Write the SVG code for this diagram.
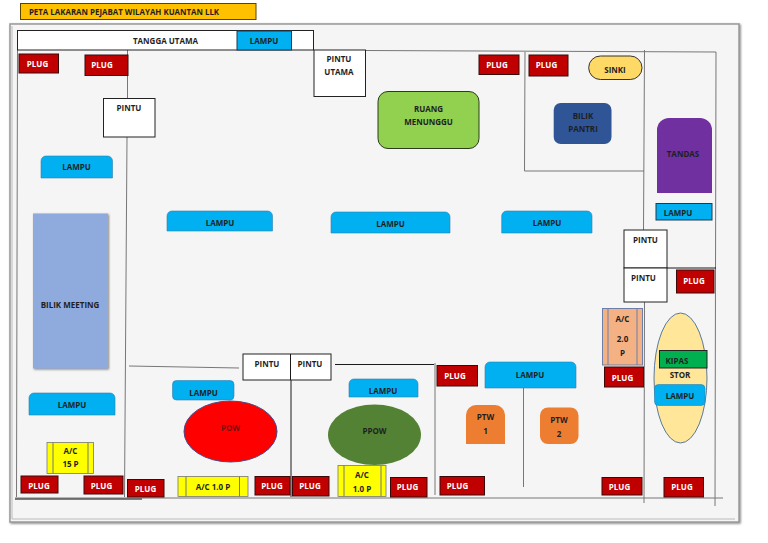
<svg xmlns="http://www.w3.org/2000/svg" width="768" height="543" viewBox="0 0 768 543">
<defs>
<style>
text{font-family:"Open Sans","Noto Sans","Liberation Sans",sans-serif;font-weight:700;font-size:8px;fill:#1f1f1f;text-anchor:middle}
.p rect{fill:#c00000;stroke:#3a0a0a;stroke-width:1}
.p text{fill:#fff}
.l{fill:#00b0f0;stroke:#2f7fb0;stroke-width:.6}
.lb{fill:#00b0f0;stroke:#1c3a50;stroke-width:1}
.w{fill:#fff;stroke:#222;stroke-width:1}
.y{fill:#ffff00;stroke:#777;stroke-width:.8}
.wall{stroke:#777;stroke-width:1;fill:none}
.blk{stroke:#1a1a1a;stroke-width:1;fill:none}
</style>
<filter id="sh" x="-3%" y="-3%" width="106%" height="106%"><feDropShadow dx="1" dy="1" stdDeviation="1" flood-color="#555" flood-opacity=".7"/></filter>
</defs>
<rect width="768" height="543" fill="#fff"/>
<g id="title"><rect x="20.5" y="3.5" width="235.5" height="16" fill="#ffc000" stroke="#5a4400"/><text x="124" y="15" style="font-size:7.900px">PETA LAKARAN PEJABAT WILAYAH KUANTAN LLK</text></g>
<g id="panel"><rect x="10" y="24" width="729" height="498" fill="#f5f5f5" stroke="#999" stroke-width="1.5" filter="url(#sh)"/><path d="M12 26V519H735" fill="none" stroke="#bbb"/></g>
<g id="connectors">
<path class="wall" d="M17.500 50L16.500 497M127.500 50V98M127 137L124.500 497M365 50.500L716 52M525 52L524.500 171H644M644.500 50L643.500 230M644.500 302L644 503M716 52L715 506M129 366L239 368M435 363V495M523.500 388V487M15 498H723"/>
<path d="M15 499H142" stroke="#555" stroke-width="1.500"/>
<path class="blk" d="M335 364.500H434M291 380V497M667 268H716"/>
</g>
<g id="tangga"><rect class="w" x="17.500" y="30.500" width="296" height="19.500"/><text x="165.500" y="43.500">TANGGA UTAMA</text></g>
<g id="lampu-top"><rect class="lb" x="237" y="31" width="54.500" height="19"/><text x="264" y="43.500">LAMPU</text></g>
<g id="pintu-utama"><rect class="w" x="314" y="50" width="51.500" height="46.500"/><text x="339" y="61.500">PINTU</text><text x="339" y="74.500">UTAMA</text></g>
<g id="pintu-1"><rect class="w" x="103.500" y="98.500" width="51.500" height="38.500"/><text x="129" y="111">PINTU</text></g>
<g id="ruang"><rect x="378" y="91.500" width="101" height="57" rx="10" fill="#92d050" stroke="#2a3a1a"/><text x="428.500" y="112">RUANG</text><text x="428.500" y="125">MENUNGGU</text></g>
<g id="pantri"><rect x="553.700" y="103" width="57.800" height="41" rx="7" fill="#2f5597"/><text x="583" y="119">BILIK</text><text x="583" y="132">PANTRI</text></g>
<g id="sinki"><rect x="588.700" y="56" width="53.300" height="23.500" rx="11.700" fill="#ffd966" stroke="#333"/><text x="615" y="72.500">SINKI</text></g>
<g id="tandas"><path d="M657 193V130a12 12 0 0 1 12-12h31a12 12 0 0 1 12 12v63z" fill="#7030a0"/><text x="683" y="156.500">TANDAS</text></g>
<g id="lampu-tandas"><rect class="lb" x="656" y="203.500" width="56" height="16.500"/><text x="678" y="216">LAMPU</text></g>
<g id="lampu-2"><path class="l" d="M41 178V161a5 5 0 0 1 5-5h61.500a5 5 0 0 1 5 5v17z"/><text x="76.500" y="169.800">LAMPU</text></g>
<g id="lampu-3"><path class="l" d="M167 231V216a5 5 0 0 1 5-5h95.500a5 5 0 0 1 5 5v15z"/><text x="220" y="225.500">LAMPU</text></g>
<g id="lampu-4"><path class="l" d="M331 233V217a5 5 0 0 1 5-5h109a5 5 0 0 1 5 5v16z"/><text x="390.500" y="226.500">LAMPU</text></g>
<g id="lampu-5"><path class="l" d="M501.700 233V216a5 5 0 0 1 5-5H587a5 5 0 0 1 5 5v17z"/><text x="547" y="225.500">LAMPU</text></g>
<g id="pintu-2"><rect class="w" x="624" y="230" width="43" height="38"/><text x="645.500" y="243">PINTU</text></g>
<g id="pintu-3"><rect class="w" x="624" y="268" width="43" height="34"/><text x="643.500" y="281">PINTU</text></g>
<g id="meeting"><rect x="33" y="213.500" width="75" height="155" fill="#8faadc" filter="url(#sh)"/><text x="70" y="308">BILIK MEETING</text></g>
<g id="lampu-6"><path class="l" d="M29 415V398a5 5 0 0 1 5-5h76a5 5 0 0 1 5 5v17z"/><text x="72" y="407.500">LAMPU</text></g>
<g id="ac-15"><rect class="y" x="47" y="442.500" width="46.500" height="31"/><path d="M53 442.500v31M88 442.500v31" stroke="#777" fill="none"/><text x="70.500" y="454">A/C</text><text x="70.500" y="466.500">15 P</text></g>
<g id="lampu-7"><rect class="l" x="172.500" y="380.500" width="61.500" height="19.500" rx="4"/><text x="203.500" y="395.500">LAMPU</text></g>
<g id="pow"><ellipse cx="230.500" cy="431.500" rx="46.500" ry="30.500" fill="#ff0000" stroke="#4a4a8a"/><text x="230.500" y="430.500" style="fill:#7a1010">POW</text></g>
<g id="lampu-8"><path class="l" d="M349 397V384a5 5 0 0 1 5-5h59a5 5 0 0 1 5 5v13z"/><text x="383" y="393.500">LAMPU</text></g>
<g id="ppow"><ellipse cx="374.500" cy="434.800" rx="46.500" ry="30.300" fill="#548235"/><text x="374.500" y="433.500">PPOW</text></g>
<g id="pintu-4"><rect class="w" x="243" y="354" width="88" height="26"/><path class="blk" d="M290.500 354v26"/><text x="267" y="367">PINTU</text><text x="310" y="367">PINTU</text></g>
<g id="lampu-9"><path class="l" d="M485 388V367a5 5 0 0 1 5-5h81a5 5 0 0 1 5 5v21z"/><text x="530" y="377.500">LAMPU</text></g>
<g id="ptw-1"><path d="M466 444V415a10 10 0 0 1 10-10h19a10 10 0 0 1 10 10v29z" fill="#ed7d31"/><text x="485.500" y="419.500">PTW</text><text x="485.500" y="434">1</text></g>
<g id="ptw-2"><rect x="540" y="407.500" width="38.500" height="36.500" rx="8" fill="#ed7d31"/><text x="559" y="423">PTW</text><text x="559" y="436.500">2</text></g>
<g id="ac-20"><rect x="602.500" y="308.500" width="40" height="56.500" fill="#f4b183" stroke="#6d7fa8"/><path d="M608 308.500v56.500M637 308.500v56.500" stroke="#6d7fa8" fill="none"/><text x="622.500" y="321.500">A/C</text><text x="622.500" y="342">2.0</text><text x="622.500" y="355.500">P</text></g>
<g id="stor"><ellipse cx="680.500" cy="378" rx="26.500" ry="65" fill="#ffe699" stroke="#5a7a9a"/><text x="680" y="377.500">STOR</text></g>
<g id="kipas"><rect x="659.500" y="350.500" width="47.500" height="17.500" fill="#00b050" stroke="#222"/><text x="677" y="364">KIPAS</text></g>
<g id="lampu-10"><rect class="l" x="654.500" y="384.500" width="50.500" height="21" rx="4"/><text x="680" y="399">LAMPU</text></g>
<g id="plug-1" class="p"><rect x="19" y="54" width="39.500" height="19"/><text x="37.500" y="66.500">PLUG</text></g>
<g id="plug-2" class="p"><rect x="85" y="55" width="43" height="20.500"/><text x="102" y="67.500">PLUG</text></g>
<g id="plug-3" class="p"><rect x="479" y="55" width="40" height="19.500"/><text x="497" y="67.500">PLUG</text></g>
<g id="plug-4" class="p"><rect x="529" y="55" width="39" height="21"/><text x="546.500" y="67.500">PLUG</text></g>
<g id="plug-5" class="p"><rect x="676.500" y="270" width="37.500" height="23"/><text x="694" y="283.500">PLUG</text></g>
<g id="plug-6" class="p"><rect x="604.500" y="367" width="39" height="20"/><text x="622.500" y="380.500">PLUG</text></g>
<g id="plug-7" class="p"><rect x="437" y="365.500" width="40.500" height="20.500"/><text x="455" y="378.500">PLUG</text></g>
<g id="plug-8" class="p"><rect x="21" y="476" width="37" height="17"/><text x="39" y="489">PLUG</text></g>
<g id="plug-9" class="p"><rect x="84" y="476" width="39" height="18"/><text x="101.500" y="489">PLUG</text></g>
<g id="plug-10" class="p"><rect x="127.500" y="479.500" width="36.500" height="17.500"/><text x="145.500" y="492">PLUG</text></g>
<g id="plug-11" class="p"><rect x="255" y="476.500" width="35" height="18.500"/><text x="272" y="489">PLUG</text></g>
<g id="plug-12" class="p"><rect x="292.500" y="476.500" width="36.500" height="19.500"/><text x="310" y="489">PLUG</text></g>
<g id="plug-13" class="p"><rect x="390.500" y="477.500" width="36.500" height="19.500"/><text x="407.500" y="490">PLUG</text></g>
<g id="plug-14" class="p"><rect x="440" y="476.500" width="44.500" height="18.500"/><text x="457.500" y="489">PLUG</text></g>
<g id="plug-15" class="p"><rect x="602" y="477.500" width="40" height="17.500"/><text x="619.500" y="490">PLUG</text></g>
<g id="plug-16" class="p"><rect x="664" y="477.500" width="39.500" height="19.500"/><text x="682" y="490">PLUG</text></g>
<g id="ac-10a"><rect class="y" x="178" y="476.500" width="70" height="20"/><path d="M186 476.500v20M239.500 476.500v20" stroke="#777" fill="none"/><text x="213" y="489.500">A/C 1.0 P</text></g>
<g id="ac-10b"><rect class="y" x="338" y="465.500" width="48" height="31"/><path d="M344 465.500v31M381 465.500v31" stroke="#777" fill="none"/><text x="362" y="478">A/C</text><text x="362" y="492">1.0 P</text></g>
</svg>
